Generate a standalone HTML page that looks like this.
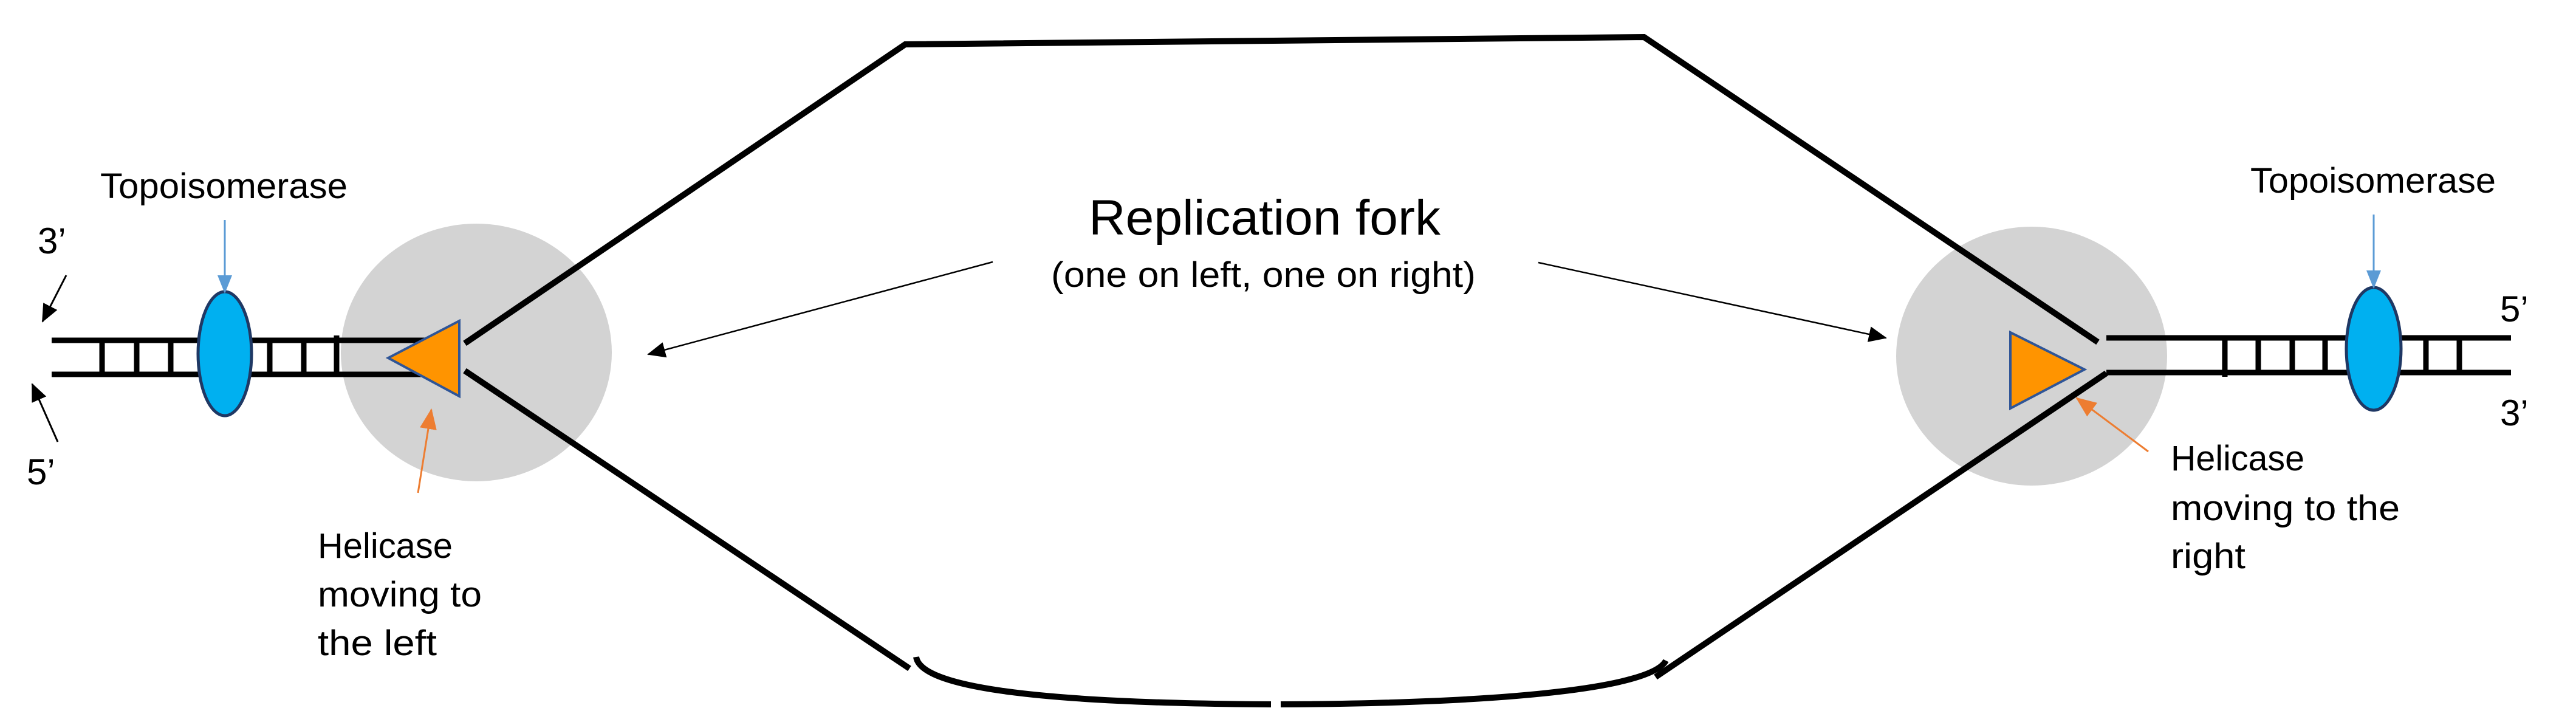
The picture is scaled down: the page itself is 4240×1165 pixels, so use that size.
<!DOCTYPE html>
<html><head><meta charset="utf-8"><style>
html,body{margin:0;padding:0;background:#fff;}
svg{display:block;}
text{font-family:"Liberation Sans",sans-serif;fill:#000;}
</style></head><body>
<svg width="4240" height="1165" viewBox="0 0 4240 1165" xmlns="http://www.w3.org/2000/svg">
<defs>
<marker id="ab" markerWidth="8" markerHeight="8" refX="7" refY="4" orient="auto" markerUnits="userSpaceOnUse" viewBox="0 0 8 8"><path d="M0,0 L8,4 L0,8z" fill="#000"/></marker>
<marker id="abk" markerWidth="30" markerHeight="30" refX="28" refY="15" orient="auto" markerUnits="userSpaceOnUse" viewBox="0 0 30 30"><path d="M0,2 L30,15 L0,28z" fill="#000"/></marker>
<marker id="abl" markerWidth="30" markerHeight="30" refX="28" refY="15" orient="auto" markerUnits="userSpaceOnUse" viewBox="0 0 30 30"><path d="M0,3 L30,15 L0,27z" fill="#5b9bd5"/></marker>
<marker id="abo" markerWidth="34" markerHeight="34" refX="32" refY="17" orient="auto" markerUnits="userSpaceOnUse" viewBox="0 0 34 34"><path d="M0,3 L34,17 L0,31z" fill="#ed7d31"/></marker>
</defs>

<!-- grey circles -->
<ellipse cx="784" cy="580" rx="223" ry="212" fill="#d3d3d3"/>
<ellipse cx="3344" cy="586" rx="223" ry="213" fill="#d3d3d3"/>

<!-- left DNA -->
<g stroke="#000" stroke-width="9">
<line x1="85" y1="560" x2="700" y2="560"/>
<line x1="85" y1="616" x2="700" y2="616"/>
<line x1="168" y1="560" x2="168" y2="616"/>
<line x1="225" y1="560" x2="225" y2="616"/>
<line x1="281" y1="560" x2="281" y2="616"/>
<line x1="444" y1="560" x2="444" y2="616"/>
<line x1="500" y1="560" x2="500" y2="616"/>
<line x1="554" y1="552" x2="554" y2="616"/>
</g>
<ellipse cx="370" cy="582" rx="44" ry="102" fill="#00b0f0" stroke="#1f3864" stroke-width="5"/>

<!-- right DNA -->
<g stroke="#000" stroke-width="9">
<line x1="3467" y1="556" x2="4133" y2="556"/>
<line x1="3467" y1="613" x2="4133" y2="613"/>
<line x1="3662" y1="556" x2="3662" y2="620"/>
<line x1="3717" y1="556" x2="3717" y2="613"/>
<line x1="3773" y1="556" x2="3773" y2="613"/>
<line x1="3827" y1="556" x2="3827" y2="613"/>
<line x1="3993" y1="556" x2="3993" y2="613"/>
<line x1="4048" y1="556" x2="4048" y2="613"/>
</g>
<ellipse cx="3907" cy="574" rx="45" ry="101" fill="#00b0f0" stroke="#1f3864" stroke-width="5"/>

<!-- bubble lines -->
<g stroke="#000" stroke-width="10" fill="none">
<polyline points="765,565 1490,73 2706,61 3453,563"/>
<line x1="765" y1="610" x2="1497" y2="1100"/>
<path d="M1508,1081 C1515,1130 1700,1157 2092,1159"/>
<path d="M2108,1159 C2500,1157 2720,1130 2742,1087"/>
<line x1="2725" y1="1114" x2="3467" y2="614"/>
</g>

<!-- triangles -->
<polygon points="639,589 756,528 756,652" fill="#ff9400" stroke="#2f5597" stroke-width="4"/>
<polygon points="3309,547 3309,672 3431,608" fill="#ff9400" stroke="#2f5597" stroke-width="4"/>

<!-- blue arrows -->
<line x1="370" y1="362" x2="370" y2="481" stroke="#5b9bd5" stroke-width="3" marker-end="url(#abl)"/>
<line x1="3907" y1="353" x2="3907" y2="473" stroke="#5b9bd5" stroke-width="3" marker-end="url(#abl)"/>

<!-- orange arrows -->
<line x1="688" y1="811" x2="710" y2="674" stroke="#ed7d31" stroke-width="3" marker-end="url(#abo)"/>
<line x1="3536" y1="743" x2="3418" y2="655" stroke="#ed7d31" stroke-width="3" marker-end="url(#abo)"/>

<!-- 3'/5' arrows -->
<line x1="109" y1="453" x2="70" y2="529" stroke="#000" stroke-width="3" marker-end="url(#abk)"/>
<line x1="95" y1="727" x2="53" y2="632" stroke="#000" stroke-width="3" marker-end="url(#abk)"/>

<!-- replication fork thin arrows -->
<line x1="1634" y1="431" x2="1067" y2="583" stroke="#000" stroke-width="2.5" marker-end="url(#abk)"/>
<line x1="2532" y1="432" x2="3104" y2="556" stroke="#000" stroke-width="2.5" marker-end="url(#abk)"/>

<!-- text -->
<text x="165" y="326" font-size="58" textLength="407" lengthAdjust="spacingAndGlyphs">Topoisomerase</text>
<text x="3704" y="317" font-size="58" textLength="404" lengthAdjust="spacingAndGlyphs">Topoisomerase</text>
<text x="62" y="417" font-size="60">3’</text>
<text x="44" y="797" font-size="60">5’</text>
<text x="4115" y="529" font-size="60">5’</text>
<text x="4115" y="700" font-size="60">3’</text>
<text x="523" y="918" font-size="58" textLength="222" lengthAdjust="spacingAndGlyphs">Helicase</text>
<text x="523" y="998" font-size="58" textLength="270" lengthAdjust="spacingAndGlyphs">moving to</text>
<text x="523" y="1078" font-size="58" textLength="196" lengthAdjust="spacingAndGlyphs">the left</text>
<text x="3573" y="774" font-size="58" textLength="220" lengthAdjust="spacingAndGlyphs">Helicase</text>
<text x="3573" y="856" font-size="58" textLength="377" lengthAdjust="spacingAndGlyphs">moving to the</text>
<text x="3573" y="935" font-size="58" textLength="123" lengthAdjust="spacingAndGlyphs">right</text>
<text x="1792" y="386" font-size="82" textLength="579" lengthAdjust="spacingAndGlyphs">Replication fork</text>
<text x="1730" y="472" font-size="58" textLength="699" lengthAdjust="spacingAndGlyphs">(one on left, one on right)</text>
</svg>
</body></html>
